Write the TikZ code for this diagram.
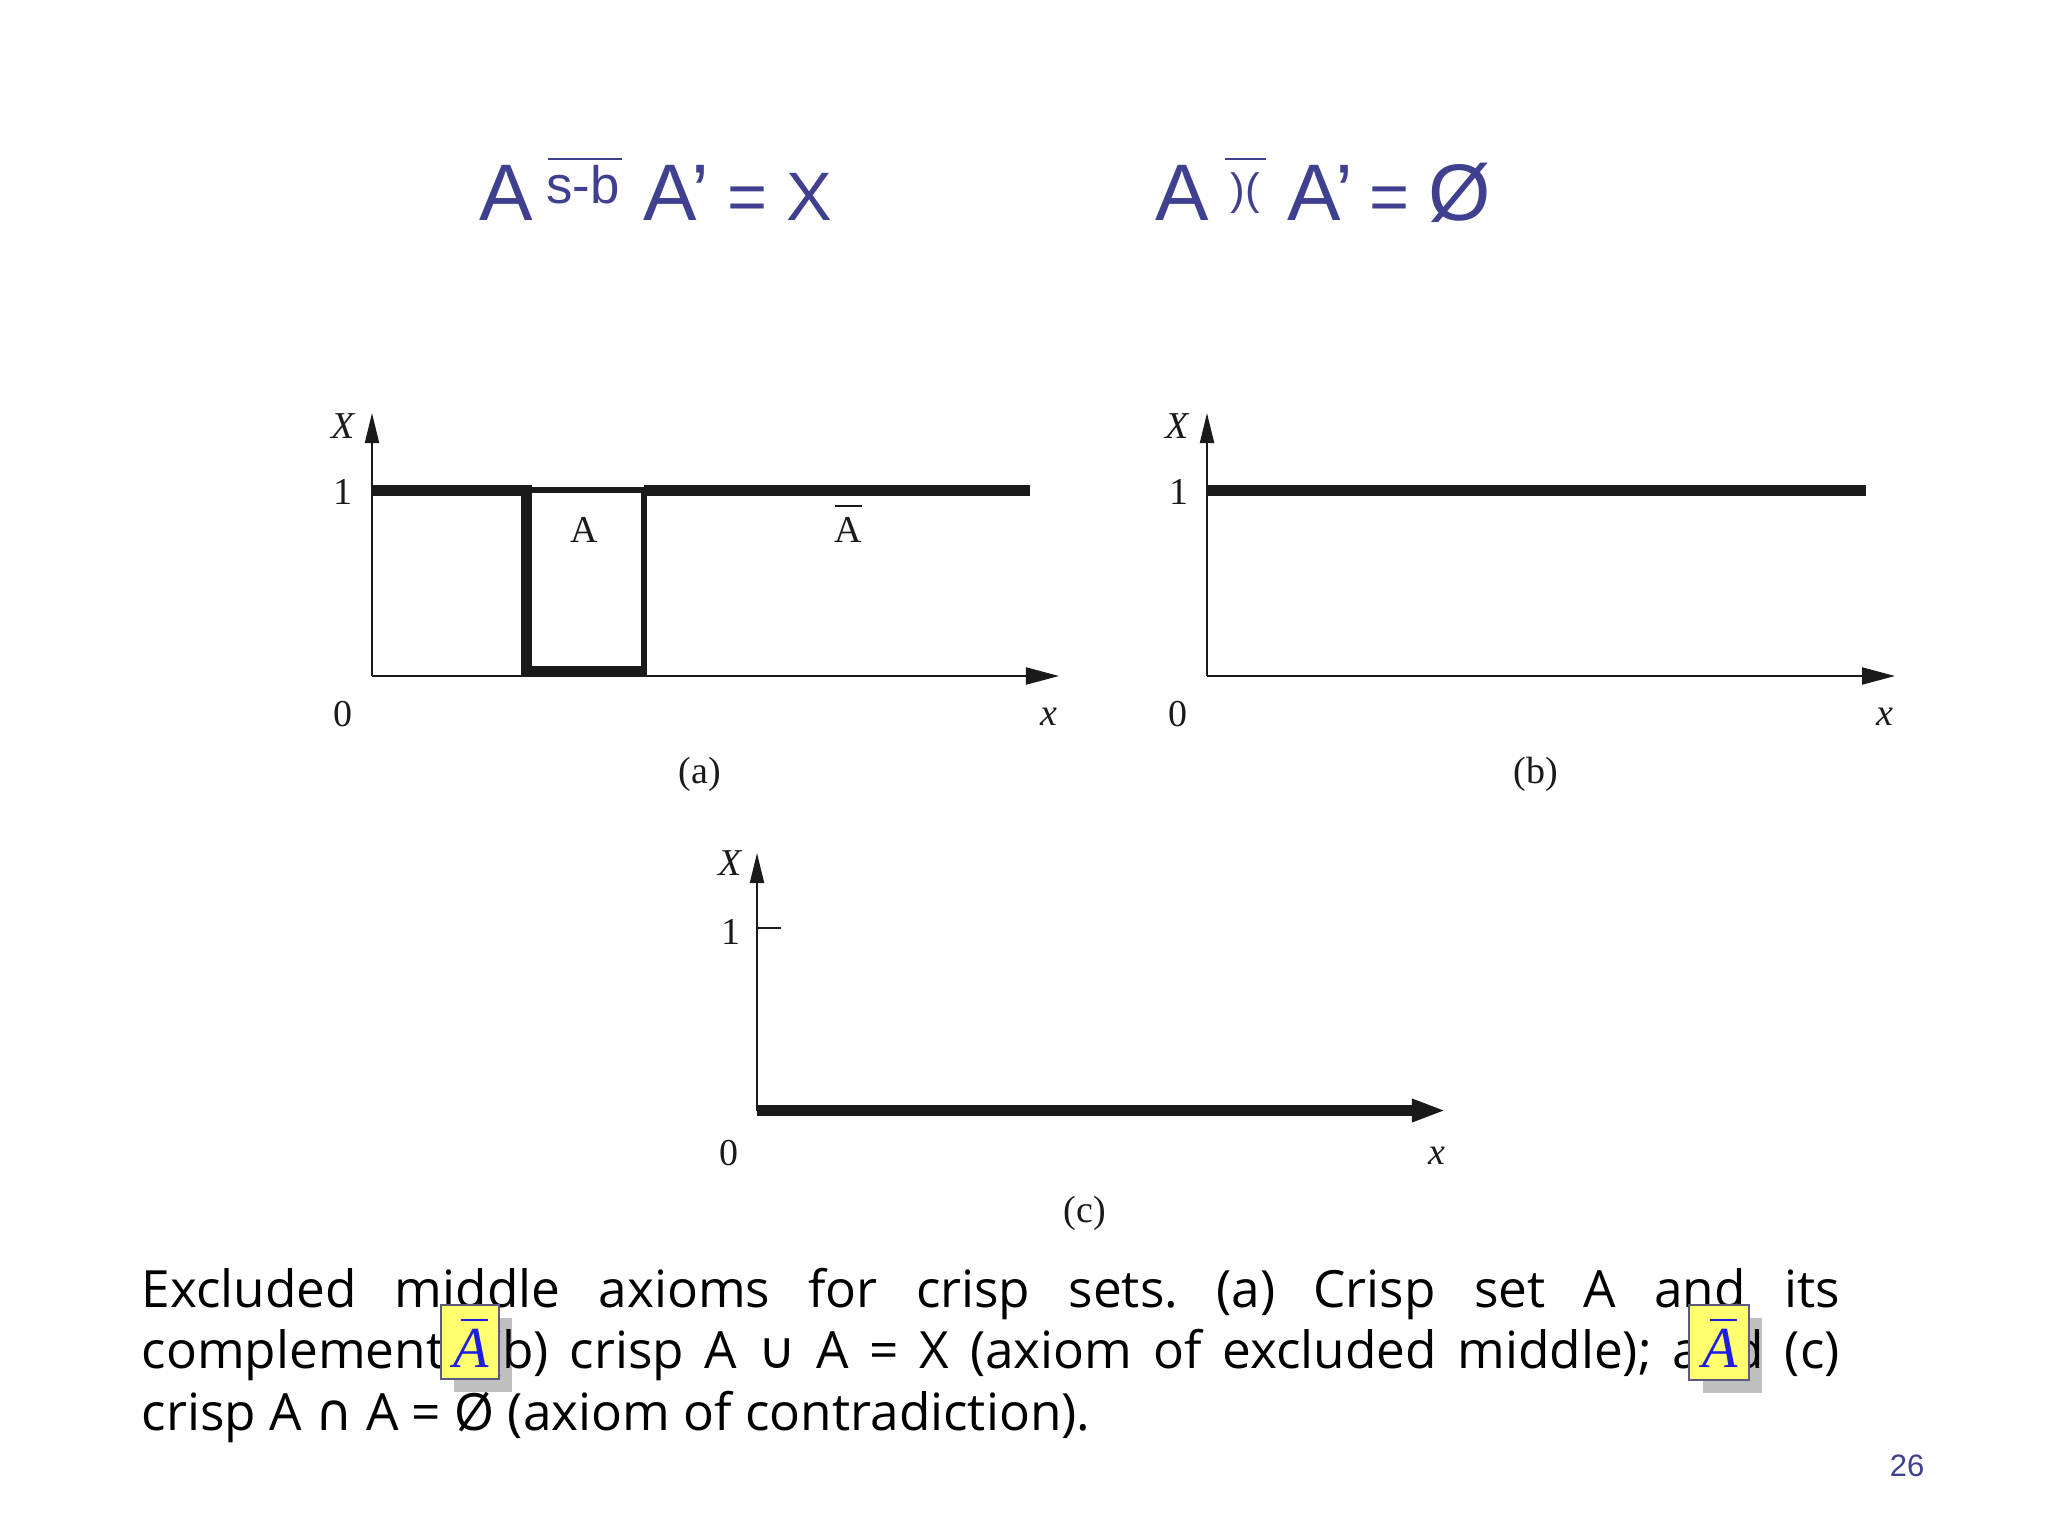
\documentclass[tikz,border=0pt]{standalone}
\usepackage{fontspec}
\setmainfont{Liberation Serif}
\newfontfamily\titlefont{Liberation Sans}
\newfontfamily\capfont{Open Sans}
\newfontfamily\symf{DejaVu Sans}
\usetikzlibrary{arrows.meta}
\frenchspacing
\definecolor{titleblue}{RGB}{64,64,144}
\definecolor{plotblack}{RGB}{26,26,26}
\definecolor{boxyellow}{RGB}{255,255,112}
\definecolor{boxedge}{RGB}{90,90,130}
\definecolor{abar}{RGB}{30,30,225}
\definecolor{shadowgray}{RGB}{192,192,192}
\tikzset{
  ttl/.style={font=\titlefont\fontsize{22.8}{27}\selectfont, text=titleblue, inner sep=0},
  ttlmid/.style={font=\titlefont\fontsize{19.5}{23}\selectfont, text=titleblue, inner sep=0},
  ttlsmall/.style={font=\titlefont\fontsize{15}{18}\selectfont, text=titleblue, inner sep=0},
  ttlpar/.style={font=\titlefont\fontsize{12.5}{15}\selectfont, text=titleblue, inner sep=0},
  ttlbar/.style={draw=titleblue, line width=0.022cm},
  lbl/.style={font=\fontsize{10.8}{12}\selectfont, text=plotblack, inner sep=0},
  axisx/.style={draw=plotblack, line width=0.02cm, -{Triangle[length=0.33cm,width=0.17cm]}},
  axisy/.style={draw=plotblack, line width=0.02cm, -{Triangle[length=0.30cm,width=0.14cm]}},
  thickln/.style={draw=plotblack, line width=0.11cm},
  medln/.style={draw=plotblack, line width=0.065cm},
  thinln/.style={draw=plotblack, line width=0.02cm},
  capline/.style={font=\capfont\fontsize{14.6}{17}\selectfont, inner sep=0, anchor=base west},
  ybox/.style={draw=boxedge, line width=0.012cm, fill=boxyellow},
  yshadow/.style={fill=shadowgray},
  yA/.style={font=\itshape\fontsize{16.5}{18}\selectfont, text=abar, inner sep=0},
  yAbar/.style={draw=abar, line width=0.025cm},
  pagenum/.style={font=\titlefont\fontsize{8.8}{10}\selectfont, text=titleblue, inner sep=0},
}
\begin{document}
\begin{tikzpicture}[x=0.01cm,y=-0.01cm]
\fill[white] (0,0) rectangle (2048,1536);
\useasboundingbox (0,0) rectangle (2048,1536);

% ---------- titles ----------
\node[ttl, anchor=base] (t1a) at (506,220) {A};
\node[ttlsmall, anchor=base] (t1op) at (583,203) {s-b};
\draw[ttlbar] (548,159) -- (622,159);
\node[ttl, anchor=base west] (t1b) at (643,220) {A’};
\node[ttlmid, anchor=base] (t1eq) at (748,220) {=};
\node[ttlmid, anchor=base] (t1x) at (809,220) {X};

\node[ttl, anchor=base] (t2a) at (1182,220) {A};
\node[ttlpar, anchor=base] (t2op) at (1245,204) {)(};
\draw[ttlbar] (1225,159) -- (1266,159);
\node[ttl, anchor=base west] (t2b) at (1287,220) {A’};
\node[ttlmid, anchor=base] (t2eq) at (1390,220) {=};
\node[ttl, anchor=base] (t2e) at (1460,220) {Ø};

% ---------- plot (a) ----------
\coordinate (oa) at (372,676);
\coordinate (oaY) at (372,413);
\coordinate (oaX) at (1059,676);
\draw[axisy] (oa) -- (oaY);
\draw[axisx] (oa) -- (oaX);
\draw[thickln] (372,490.5) -- (526,490.5) -- (526,671) -- (644,671);
\draw[medln] (526,490) -- (644,490) -- (644,676);
\draw[thickln] (644,490.5) -- (1030,490.5);
\node[lbl] (aX) at (344,426) {\textit{X}};
\node[lbl] (a1) at (343,492) {1};
\node[lbl] (a0) at (343,714) {0};
\node[lbl] (ax) at (1049,717) {\textit{x}};
\node[lbl] (aA) at (584,530) {A};
\node[lbl] (aAc) at (848,530) {A};
\draw[thinln] (835,506) -- (862,506);
\node[lbl] (acap) at (700,774) {(a)};

% ---------- plot (b) ----------
\coordinate (ob) at (1207,676);
\coordinate (obY) at (1207,413);
\coordinate (obX) at (1895,676);
\draw[axisy] (ob) -- (obY);
\draw[axisx] (ob) -- (obX);
\draw[thickln] (1207,490.5) -- (1866,490.5);
\node[lbl] (bX) at (1178,426) {\textit{X}};
\node[lbl] (b1) at (1179,492) {1};
\node[lbl] (b0) at (1178,714) {0};
\node[lbl] (bx) at (1885,717) {\textit{x}};
\node[lbl] (bcap) at (1536,774) {(b)};

% ---------- plot (c) ----------
\coordinate (oc) at (757,1110.5);
\coordinate (ocY) at (757,853);
\coordinate (ocX) at (1446,1110.5);
\draw[axisy] (oc) -- (ocY);
\draw[thickln, -{Triangle[length=0.34cm,width=0.21cm]}] (oc) -- (ocX);
\draw[thinln] (757,928) -- (781,928);
\node[lbl] (cX) at (731,863) {\textit{X}};
\node[lbl] (c1) at (731,932) {1};
\node[lbl] (c0) at (729,1153) {0};
\node[lbl] (cx) at (1437,1156) {\textit{x}};
\node[lbl] (ccap) at (1085,1213) {(c)};

% ---------- shadows of the yellow boxes (behind the text) ----------
\fill[yshadow] (454,1318) rectangle (512,1392);
\fill[yshadow] (1703,1318) rectangle (1762,1393);

% ---------- caption ----------
\node[capline] (l1) at (141,1307) {\makebox[16.97cm][s]{Excluded middle axioms for crisp sets. (a) Crisp set A and its}};
\node[capline] (l2) at (141,1368) {\makebox[16.97cm][s]{complement\hspace{0.22cm} (b) crisp A {\symf ∪} A = X (axiom of excluded middle); and (c)}};
\node[capline] (l3) at (141,1430) {crisp A {\symf ∩} A = Ø (axiom of contradiction).};

% ---------- yellow boxes ----------
\node[ybox, minimum width=0.58cm, minimum height=0.74cm, inner sep=0] (bx1) at (470,1342) {};
\node[yA] (bx1A) at (471,1348) {A};
\draw[yAbar] (461,1320) -- (488,1320);
\node[ybox, minimum width=0.60cm, minimum height=0.75cm, inner sep=0] (bx2) at (1719,1342.5) {};
\node[yA] (bx2A) at (1720,1348) {A};
\draw[yAbar] (1710,1320) -- (1737,1320);

% ---------- page number ----------
\node[pagenum] (pg) at (1907,1466) {26};
\end{tikzpicture}
\end{document}
